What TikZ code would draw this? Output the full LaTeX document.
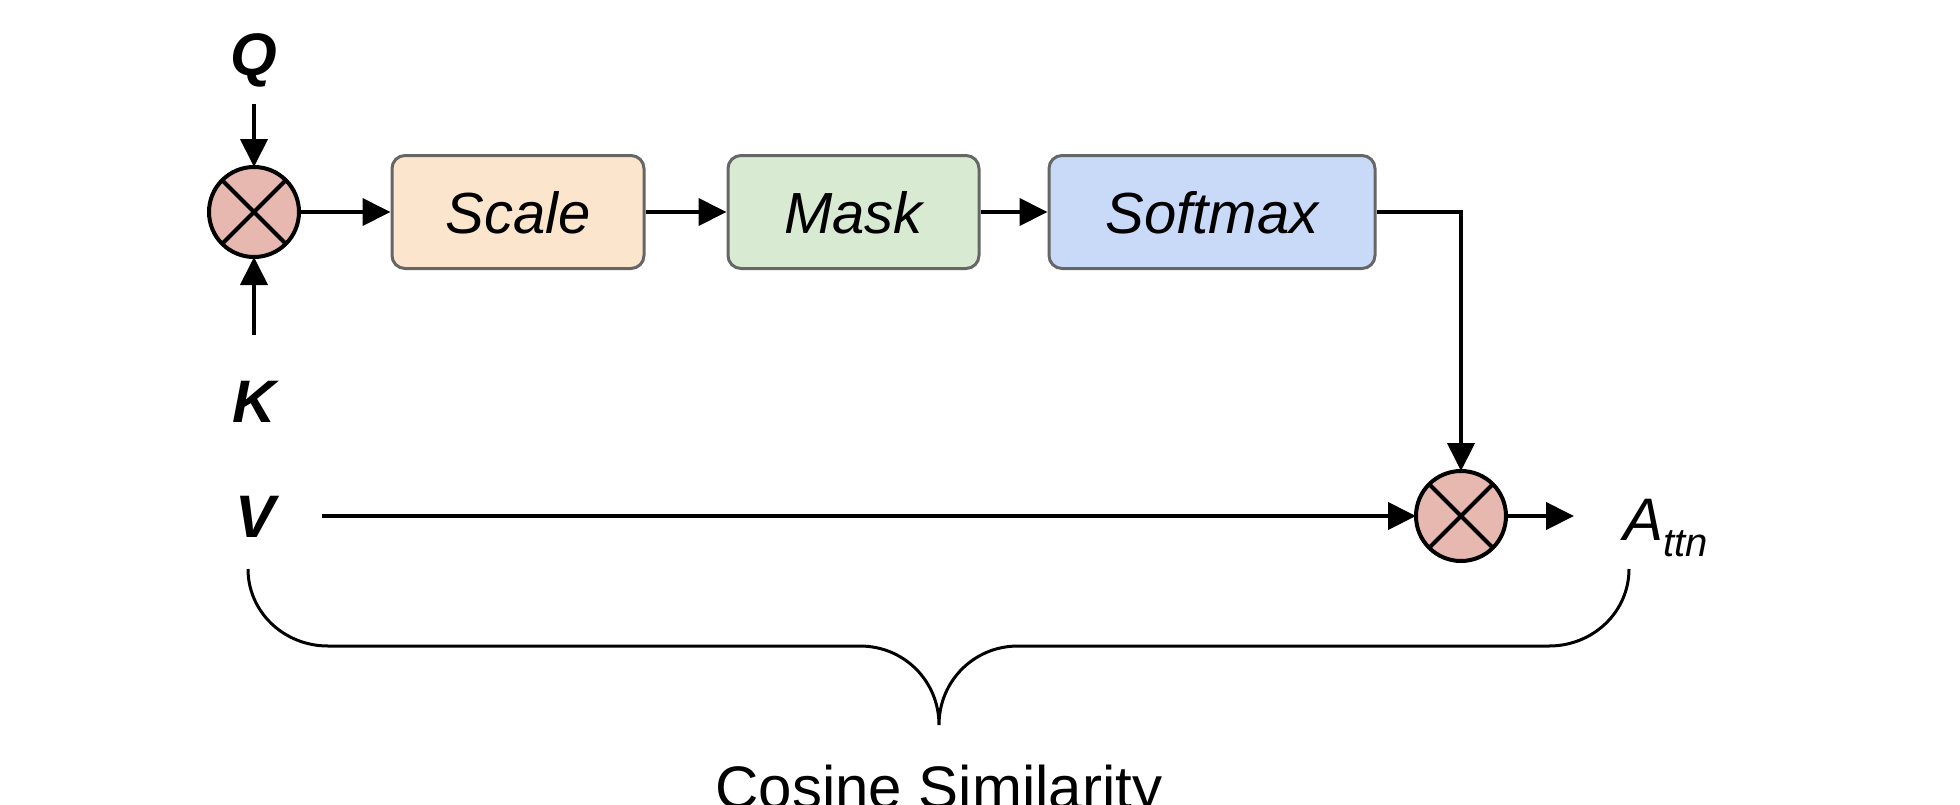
\documentclass[tikz,border=0pt]{standalone}
\usepackage{fontspec}
\setmainfont{Liberation Sans}
\usetikzlibrary{arrows.meta}
\definecolor{boxline}{HTML}{666666}
\definecolor{scalefill}{HTML}{FCE5CD}
\definecolor{maskfill}{HTML}{D9EAD3}
\definecolor{softfill}{HTML}{C9DAF8}
\definecolor{mulfill}{HTML}{E6B8AF}
\tikzset{
  opbox/.style={draw=boxline, line width=3pt, rounded corners=13pt, minimum height=113pt,
    text height=43pt, text depth=0pt, inner sep=0pt,
    font=\fontsize{58}{58}\selectfont\itshape},
  mul/.style={circle, draw=black, fill=mulfill, line width=4pt, minimum size=90pt, inner sep=0pt, outer sep=0pt},
  conn/.style={line width=4pt, -{Triangle[length=28pt,width=27pt]}},
  lbl/.style={font=\fontsize{60}{60}\selectfont\bfseries\itshape, anchor=base, inner sep=0pt},
  brace/.style={line width=3pt}
}
\begin{document}
\begin{tikzpicture}[x=1pt,y=-1pt]
\useasboundingbox (0,0) rectangle (1960,804);
\clip (0,0) rectangle (1960,804);
% nodes
\node[lbl] (Q) at (254,75) {Q};
\node[lbl] (K) at (254,422) {K};
\node[lbl] (V) at (256,537) {V};
\node[mul] (m1) at (254,212) {};
\draw[line width=4pt] (m1.45) -- (m1.225) (m1.135) -- (m1.-45);
\node[opbox, fill=scalefill, minimum width=252pt] (scale) at (518,212) {Scale};
\node[opbox, fill=maskfill, minimum width=251pt] (mask) at (853.5,212) {Mask};
\node[opbox, fill=softfill, minimum width=326pt] (soft) at (1212,212) {Softmax};
\node[mul] (m2) at (1461,516) {};
\draw[line width=4pt] (m2.45) -- (m2.225) (m2.135) -- (m2.-45);
\node[anchor=base west, inner sep=0pt, font=\fontsize{60}{60}\selectfont\itshape] (attn) at (1623,540) {A\raisebox{-16pt}{\fontsize{40}{40}\selectfont ttn}};
\coordinate (qs) at (254,104);
\coordinate (ks) at (254,335);
\coordinate (vs) at (322,516);
\coordinate (outend) at (1574,516);
% connectors
\draw[conn] (qs) -- (m1.north);
\draw[conn] (ks) -- (m1.south);
\draw[conn] (m1.east) -- (scale.west);
\draw[conn] (scale.east) -- (mask.west);
\draw[conn] (mask.east) -- (soft.west);
\draw[conn] (soft.east) -| (m2.north);
\draw[conn] (vs) -- (m2.west);
\draw[conn] (m2.east) -- (outend);
% brace
\coordinate (bl) at (248,569);
\coordinate (br) at (1629,569);
\coordinate (tip) at (939,725);
\draw[brace] (bl) .. controls (248,612) and (284,646) .. (328,646) -- (860,646)
  .. controls (904,646) and (939,681) .. (tip)
  .. controls (939,681) and (974,646) .. (1018,646) -- (1549,646)
  .. controls (1593,646) and (1629,612) .. (br);
\node[anchor=base, inner sep=0pt, font=\fontsize{60}{60}\selectfont] (cos) at (939,808) {Cosine Similarity};
\end{tikzpicture}
\end{document}
